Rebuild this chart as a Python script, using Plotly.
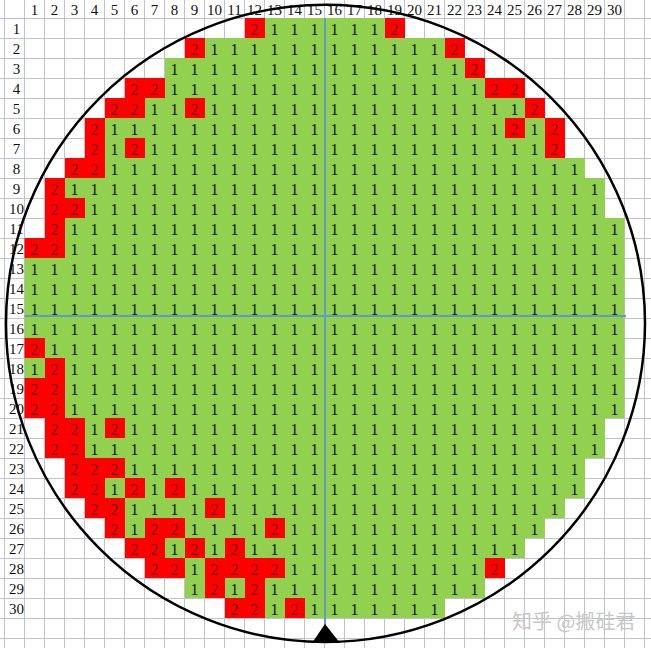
import plotly.graph_objects as go

# wafer map, one string per row: 1 = good die, 2 = bad die, blank = no die
die_rows = [
    "           21111112",
    "        21111111111112",
    "       1111111111111112",
    "     22" "1111111111111111" "22",
    "    22112" "1111111111111111" "2",
    "   2" "11111111111111111111" "212",
    "   212" "11111111111111111111" "2",
    "  22" "111111111111111111111111",
    " 2" "111111111111111111111111111",
    " 22" "11111111111111111111111111",
    " 2" "1111111111111111111111111111",
    "22" "1111111111111111111111111111",
    "111111111111111111111111111111",
    "111111111111111111111111111111",
    "111111111111111111111111111111",
    "111111111111111111111111111111",
    "2" "11111111111111111111111111111",
    "12" "1111111111111111111111111111",
    "22" "1111111111111111111111111111",
    "22" "1111111111111111111111111111",
    " 2212" "111111111111111111111111",
    " 22" "11111111111111111111111111",
    "  222" "11111111111111111111111",
    "  221212" "11111111111111111111",
    "   221111" "2" "11111111111111111",
    "    2122" "1111" "2" "1111111111111",
    "     221212" "11111111111111",
    "      221" "2222" "1111111111" "2",
    "        1212" "11111111111",
    "          2212" "1111111",
]
col_labels = list(range(1, 31))
row_labels = list(range(1, 31))

GREEN = "#92D050"
RED = "#FF0000"
GRID = "#C2C2CE"
BLUE = "#5F9DC4"

# pixel geometry of the sheet
W, H = 651, 648
CELL = 20
LEFT, TOP = 24.5, 18


def px_x(px):
    return 0.5 + (px - LEFT) / CELL


def px_y(px):
    return 0.5 + (px - TOP) / CELL


z = []
for row in die_rows:
    row = row.ljust(30)
    z.append([int(c) if c != " " else None for c in row])

fig = go.Figure()

fig.add_trace(go.Heatmap(x=col_labels, y=row_labels, z=z, zmin=1, zmax=2, showscale=False,
                         colorscale=[[0, GREEN], [0.5, GREEN], [0.5, RED], [1, RED]], hoverinfo="skip"))

# die numbers, black on green and darker on red
for value, colour in ((1, "#101808"), (2, "#7A0808")):
    xs, ys = [], []
    for i, row in enumerate(z):
        for j, v in enumerate(row):
            if v == value:
                xs.append(col_labels[j])
                ys.append(row_labels[i] + 0.13)
    fig.add_trace(go.Scatter(x=xs, y=ys, mode="text", text=[str(value)] * len(xs),
                             textfont=dict(family="Liberation Serif", size=16, color=colour),
                             showlegend=False, hoverinfo="skip"))

# sheet headers
fig.add_trace(go.Scatter(x=col_labels, y=[px_y(11.5)] * 30, mode="text", text=[str(c) for c in col_labels],
                         textfont=dict(family="Liberation Serif", size=15, color="#101010"),
                         showlegend=False, hoverinfo="skip"))
fig.add_trace(go.Scatter(x=[px_x(16.5)] * 30, y=[r + 0.13 for r in row_labels], mode="text",
                         text=[str(r) for r in row_labels],
                         textfont=dict(family="Liberation Serif", size=15, color="#101010"),
                         showlegend=False, hoverinfo="skip"))

# wafer outline, centre lines and notch
fig.add_shape(type="circle", x0=px_x(6), x1=px_x(645), y0=px_y(4.7), y1=px_y(642),
              line=dict(color="black", width=2.5))
fig.add_shape(type="line", x0=px_x(325), x1=px_x(325), y0=px_y(18), y1=px_y(630), line=dict(color=BLUE, width=2))
fig.add_shape(type="line", x0=px_x(24.5), x1=px_x(626), y0=px_y(316), y1=px_y(316), line=dict(color=BLUE, width=2))
fig.add_shape(type="path", fillcolor="black", line=dict(color="black", width=0),
              path=f"M {px_x(325)} {px_y(624)} L {px_x(340)} {px_y(643)} L {px_x(312)} {px_y(643)} Z")

fig.add_annotation(x=px_x(573), y=px_y(620), text="知乎 @搬硅君", showarrow=False,
                   font=dict(family="Noto Sans CJK SC", size=20, color="#C8C8C8"))

fig.update_xaxes(range=[px_x(0), px_x(W)], tick0=0.5, dtick=1, showgrid=True, gridcolor=GRID, gridwidth=1,
                 showticklabels=False, zeroline=False, showline=False)
fig.update_yaxes(range=[px_y(H), px_y(0)], tick0=0.5, dtick=1, showgrid=True, gridcolor=GRID, gridwidth=1,
                 showticklabels=False, zeroline=False, showline=False)
fig.update_layout(width=W, height=H, margin=dict(l=0, r=0, t=0, b=0), plot_bgcolor="white", paper_bgcolor="white",
                  showlegend=False)

fig.write_html("out.html", config=dict(displayModeBar=False), post_script="document.body.style.margin = '0';")
